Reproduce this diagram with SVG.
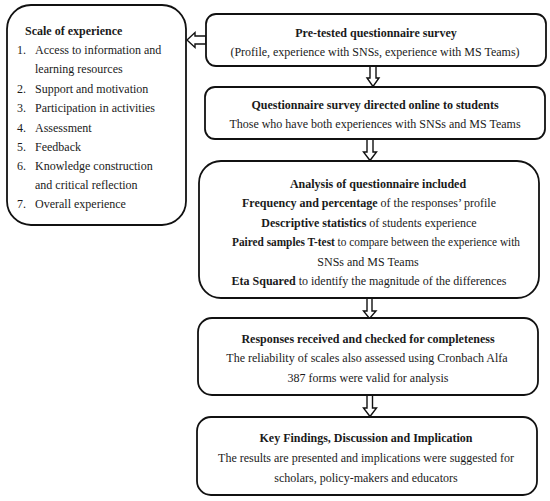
<svg xmlns="http://www.w3.org/2000/svg" width="550" height="501" viewBox="0 0 550 501">
<style>
.box{fill:#fff;stroke:#111;stroke-width:1.8}
.arr{fill:#fff;stroke:#111;stroke-width:1.4;stroke-linejoin:miter}
text{font-family:"Liberation Serif","Times New Roman",serif;font-size:12px;fill:#1a1a1a}
.c{text-anchor:middle}
.b{font-weight:bold}
</style>
<rect width="550" height="501" fill="#fff"/>
<g id="connectors">
<path class="arr" d="M206,36 L195,36 L195,32.5 L187,40 L195,47.5 L195,44 L206,44 Z"/>
<path class="arr" d="M370,66 L370,78 L367,78 L373,86.5 L379,78 L376,78 L376,66 Z"/>
<path class="arr" d="M367,139 L367,152 L363.5,152 L370,160.5 L376.5,152 L373,152 L373,139 Z"/>
<path class="arr" d="M367,298 L367,311 L363.5,311 L369.5,318.5 L376,311 L372,311 L372,298 Z"/>
<path class="arr" d="M367,395 L367,408 L363.5,408 L370,416.5 L376.5,408 L372.5,408 L372.5,395 Z"/>
</g>
<g id="scale">
<rect class="box" x="7" y="5" width="179" height="220" rx="24" ry="24"/>
<text x="25" y="35" class="b">Scale of experience</text>
<text x="17" y="54">1.</text><text x="35" y="54">Access to information and</text>
<text x="35" y="73">learning resources</text>
<text x="17" y="93">2.</text><text x="35" y="93">Support and motivation</text>
<text x="17" y="112">3.</text><text x="35" y="112">Participation in activities</text>
<text x="17" y="132">4.</text><text x="35" y="132">Assessment</text>
<text x="17" y="151">5.</text><text x="35" y="151">Feedback</text>
<text x="17" y="170">6.</text><text x="35" y="170">Knowledge construction</text>
<text x="35" y="189">and critical reflection</text>
<text x="17" y="208">7.</text><text x="35" y="208">Overall experience</text>
</g>
<g id="pretest">
<rect class="box" x="206" y="14" width="340" height="52" rx="10" ry="10"/>
<text x="376" y="37" class="c b">Pre-tested questionnaire survey</text>
<text x="375" y="56" class="c">(Profile,  experience with SNSs, experience with MS Teams)</text>
</g>
<g id="survey">
<rect class="box" x="205" y="87" width="340" height="52" rx="10" ry="10"/>
<text x="375" y="109" class="c b">Questionnaire survey directed online to students</text>
<text x="375" y="128" class="c">Those who have both experiences with SNSs and MS Teams</text>
</g>
<g id="analysis">
<rect class="box" x="199" y="161" width="340" height="137" rx="22" ry="22"/>
<text x="378" y="188" class="c b">Analysis of questionnaire included</text>
<text x="369" y="207" class="c"><tspan class="b">Frequency and percentage</tspan> of the responses’ profile</text>
<text x="369" y="227" class="c"><tspan class="b">Descriptive statistics</tspan> of students experience</text>
<text x="376" y="246" class="c" textLength="288" lengthAdjust="spacingAndGlyphs"><tspan class="b">Paired samples T-test</tspan> to compare between the experience with</text>
<text x="368" y="266" class="c">SNSs and MS Teams</text>
<text x="369" y="285" class="c"><tspan class="b">Eta Squared</tspan> to identify the magnitude of the differences</text>
</g>
<g id="responses">
<rect class="box" x="198" y="318" width="340" height="77" rx="14" ry="14"/>
<text x="368" y="343" class="c b">Responses received and checked for completeness</text>
<text x="367" y="362" class="c">The reliability  of scales also assessed using Cronbach Alfa</text>
<text x="368" y="382" class="c">387 forms were valid for analysis</text>
</g>
<g id="findings">
<rect class="box" x="197" y="417" width="340" height="78" rx="14" ry="14"/>
<text x="366" y="442" class="c b">Key Findings, Discussion and Implication</text>
<text x="366" y="462" class="c">The results are presented and implications were suggested for</text>
<text x="366" y="482" class="c">scholars, policy-makers and educators</text>
</g>
</svg>
